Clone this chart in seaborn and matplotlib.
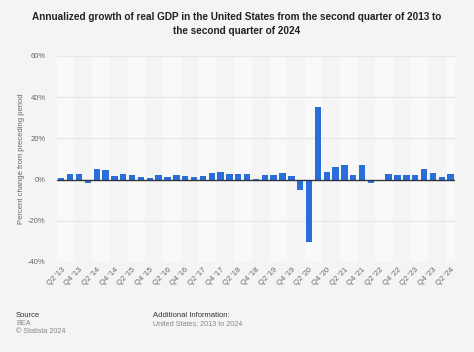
import matplotlib
matplotlib.use("Agg")
import matplotlib.pyplot as plt
import seaborn as sns
import pandas as pd

quarters = [
    "Q2 '13", "Q3 '13", "Q4 '13",
    "Q1 '14", "Q2 '14", "Q3 '14", "Q4 '14",
    "Q1 '15", "Q2 '15", "Q3 '15", "Q4 '15",
    "Q1 '16", "Q2 '16", "Q3 '16", "Q4 '16",
    "Q1 '17", "Q2 '17", "Q3 '17", "Q4 '17",
    "Q1 '18", "Q2 '18", "Q3 '18", "Q4 '18",
    "Q1 '19", "Q2 '19", "Q3 '19", "Q4 '19",
    "Q1 '20", "Q2 '20", "Q3 '20", "Q4 '20",
    "Q1 '21", "Q2 '21", "Q3 '21", "Q4 '21",
    "Q1 '22", "Q2 '22", "Q3 '22", "Q4 '22",
    "Q1 '23", "Q2 '23", "Q3 '23", "Q4 '23",
    "Q1 '24", "Q2 '24",
]
growth = [
    0.6, 2.9, 2.6,
    -1.6, 5.2, 4.5, 1.8,
    2.9, 2.1, 1.1, 0.5,
    2.0, 1.2, 2.0, 1.8,
    1.4, 1.8, 3.2, 3.7,
    2.6, 2.6, 2.6, 0.4,
    2.0, 2.3, 3.2, 1.8,
    -4.9, -30.1, 35.1, 3.6,
    6.0, 7.0, 2.4, 7.0,
    -1.8, -0.6, 2.9, 2.3,
    2.0, 2.0, 4.9, 3.2,
    1.4, 2.6,
]
y_ticks = [-40, -20, 0, 20, 40, 60]

df = pd.DataFrame({"quarter": quarters, "growth": growth})

sns.set_theme(style="white")
plt.rcParams["font.family"] = ["Liberation Sans", "DejaVu Sans"]

bg = "#f4f4f4"
fig = plt.figure(figsize=(4.74, 3.52), dpi=100, facecolor=bg)
ax = fig.add_axes([0.120, 0.256, 0.840, 0.585])
ax.set_facecolor(bg)

n = len(quarters)
# alternating background bands, two quarters wide
for k in range(0, n, 4):
    ax.axvspan(k - 0.5, k + 1.5, color="#f9f9f9", zorder=0, lw=0)

for t in y_ticks:
    if t != 0:
        ax.axhline(t, color="#e6e6e6", lw=0.8, zorder=1)

sns.barplot(data=df, x="quarter", y="growth", color="#2a6fd9", width=0.72,
            saturation=1, linewidth=0, ax=ax, zorder=3)
ax.axhline(0, color="#2d3440", lw=1.0, zorder=4)

ax.set_xlim(-0.5, n - 0.5)
ax.set_ylim(-40, 60)
ax.set_yticks(y_ticks)
ax.set_yticklabels([f"{t}%" for t in y_ticks], fontsize=5.5, color="#666666")
ax.tick_params(axis="y", length=0, pad=8)

xt = list(range(0, n, 2))
ax.set_xticks(xt)
ax.set_xticklabels([quarters[i] for i in xt], rotation=45, ha="right",
                   rotation_mode="anchor", fontsize=5.5, color="#666666")
ax.tick_params(axis="x", length=0, pad=3)

ax.set_xlabel("")
ax.set_ylabel("Percent change from preceding period", fontsize=5.5,
              color="#666666")
ax.yaxis.set_label_coords(-0.080, 0.5)
for s in ax.spines.values():
    s.set_visible(False)

fig.text(0.5, 0.952, "Annualized growth of real GDP in the United States from the second quarter of 2013 to",
         ha="center", va="center", fontsize=7.2, fontweight="bold", color="#222222")
fig.text(0.5, 0.912, "the second quarter of 2024",
         ha="center", va="center", fontsize=7.2, fontweight="bold", color="#222222")

fig.text(0.034, 0.105, "Source", fontsize=5.5, color="#333333", va="center")
fig.text(0.034, 0.082, "BEA", fontsize=5.2, color="#888888", va="center")
fig.text(0.034, 0.059, "© Statista 2024", fontsize=5.2, color="#888888", va="center")
fig.text(0.323, 0.105, "Additional Information:", fontsize=5.5, color="#333333", va="center")
fig.text(0.323, 0.082, "United States; 2013 to 2024", fontsize=5.2, color="#888888", va="center")

fig.savefig("out.png", dpi=100, facecolor=bg)
